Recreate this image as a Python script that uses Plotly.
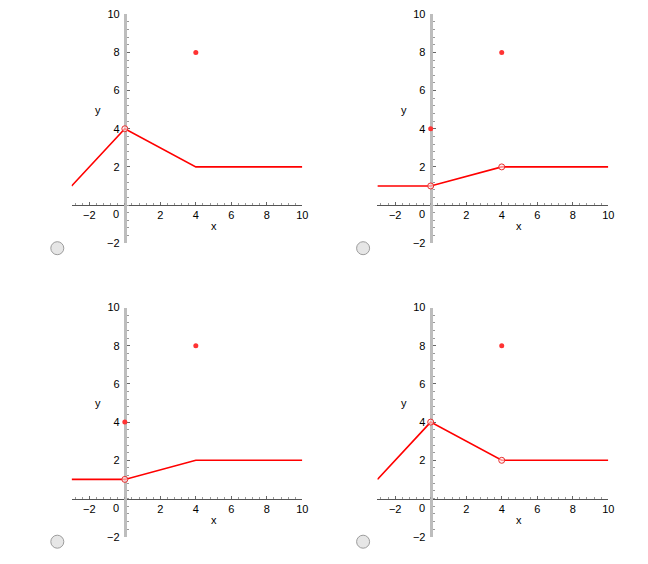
import plotly.graph_objects as go

# piecewise graphs shown in the four answer choices
line_x = [-3, 0, 4, 10]
line_y_a = [1, 4, 2, 2]
line_y_b = [1, 1, 2, 2]
line_y_c = [1, 1, 2, 2]
line_y_d = [1, 4, 2, 2]

open_x_a, open_y_a = [0], [4]
open_x_b, open_y_b = [0, 4], [1, 2]
open_x_c, open_y_c = [0], [1]
open_x_d, open_y_d = [0, 4], [4, 2]

dot_x_a, dot_y_a = [4], [8]
dot_x_b, dot_y_b = [0, 4], [4, 8]
dot_x_c, dot_y_c = [0, 4], [4, 8]
dot_x_d, dot_y_d = [4], [8]

x_ticks = [-2, 2, 4, 6, 8, 10]
y_ticks = [-2, 2, 4, 6, 8, 10]
x_range = [-3, 10]
y_range = [-2, 10]

W, H = 648, 564
OFF = 8  # page body margin around the plot div
RED = "#ff0000"
FONT = "Liberation Sans, Arial, sans-serif"

panels = [
    (line_y_a, open_x_a, open_y_a, dot_x_a, dot_y_a),
    (line_y_b, open_x_b, open_y_b, dot_x_b, dot_y_b),
    (line_y_c, open_x_c, open_y_c, dot_x_c, dot_y_c),
    (line_y_d, open_x_d, open_y_d, dot_x_d, dot_y_d),
]
# pixel boxes of each plot area in the screenshot (left, right) / (top, bottom)
cols = [(71.6, 302.3), (377.4, 608.3)]
rows = [(14.3, 243.2), (307.5, 536.7)]


def px(v):
    return (v - OFF) / W


def py(v):
    return 1 - (v - OFF) / H


fig = go.Figure()
shapes = []
annotations = []

for i, (ly, ox, oy, dx, dy) in enumerate(panels):
    r, c = divmod(i, 2)
    n = "" if i == 0 else str(i + 1)
    xa, ya = "x" + n, "y" + n
    x0, x1 = cols[c]
    t, b = rows[r]
    xdom = [px(x0), px(x1)]
    ydom = [py(b), py(t)]
    # where the axes cross (x=0, y=0) in paper coords
    xpos = xdom[0] + (0 - x_range[0]) / (x_range[1] - x_range[0]) * (xdom[1] - xdom[0])
    ypos = ydom[0] + (0 - y_range[0]) / (y_range[1] - y_range[0]) * (ydom[1] - ydom[0])

    fig.add_trace(go.Scatter(x=line_x, y=ly, mode="lines", xaxis=xa, yaxis=ya,
                             line=dict(color=RED, width=1.6), hoverinfo="skip", showlegend=False))
    fig.add_trace(go.Scatter(x=ox, y=oy, mode="markers", xaxis=xa, yaxis=ya,
                             marker=dict(symbol="circle", size=6, color="rgba(255,235,235,0.6)",
                                         line=dict(color="#e83030", width=1)),
                             hoverinfo="skip", showlegend=False))
    fig.add_trace(go.Scatter(x=dx, y=dy, mode="markers", xaxis=xa, yaxis=ya,
                             marker=dict(symbol="circle", size=5, color="#ff3333"),
                             hoverinfo="skip", showlegend=False))

    fig.layout["xaxis" + n] = dict(
        domain=xdom, range=x_range, anchor="free", position=ypos, automargin=False,
        layer="below traces",
        showgrid=False, zeroline=False, showline=True, linecolor="#555555", linewidth=1,
        tickmode="array", tickvals=x_ticks, ticktext=[str(v).replace("-", "\u2212") for v in x_ticks],
        ticks="inside", ticklen=3, tickcolor="#666666",
        minor=dict(tick0=0, dtick=0.4, ticks="inside", ticklen=2, tickcolor="#999999"),
        tickfont=dict(family=FONT, size=11, color="black"), fixedrange=True,
    )
    fig.layout["yaxis" + n] = dict(
        domain=ydom, range=y_range, anchor="free", position=xpos, automargin=False,
        layer="below traces",
        showgrid=False, zeroline=False, showline=True, linecolor="#bdbdbd", linewidth=3,
        tickmode="array", tickvals=y_ticks, ticktext=[str(v).replace("-", "\u2212") for v in y_ticks],
        ticks="inside", ticklen=3, tickcolor="#666666",
        minor=dict(tick0=0, dtick=0.4, ticks="inside", ticklen=2, tickcolor="#999999"),
        tickfont=dict(family=FONT, size=11, color="black"), ticklabelstandoff=2, fixedrange=True,
    )

    annotations.append(dict(x=0, y=0, xref=xa, yref=ya, text="0", showarrow=False,
                            xanchor="right", yanchor="top", xshift=-4, yshift=-1,
                            font=dict(family=FONT, size=11, color="black")))
    annotations.append(dict(x=5, y=0, xref=xa, yref=ya, text="x", showarrow=False,
                            xanchor="center", yanchor="middle", yshift=-21,
                            font=dict(family=FONT, size=11, color="black")))
    annotations.append(dict(x=0, y=5, xref=xa, yref=ya, text="y", showarrow=False,
                            xanchor="center", yanchor="middle", xshift=-27,
                            font=dict(family=FONT, size=11, color="black")))

    # radio button below each panel
    cx, cy = x0 - 14.3, b + 5
    shapes.append(dict(type="circle", xref="paper", yref="paper",
                       x0=px(cx - 6.5), x1=px(cx + 6.5), y0=py(cy + 6.5), y1=py(cy - 6.5),
                       fillcolor="#e6e6e6", line=dict(color="#9c9c9c", width=1), layer="above"))

fig.update_layout(
    width=W, height=H, autosize=False,
    margin=dict(l=0, r=0, t=0, b=0, pad=0),
    paper_bgcolor="white", plot_bgcolor="white",
    shapes=shapes, annotations=annotations,
)

fig.write_html("out.html")
